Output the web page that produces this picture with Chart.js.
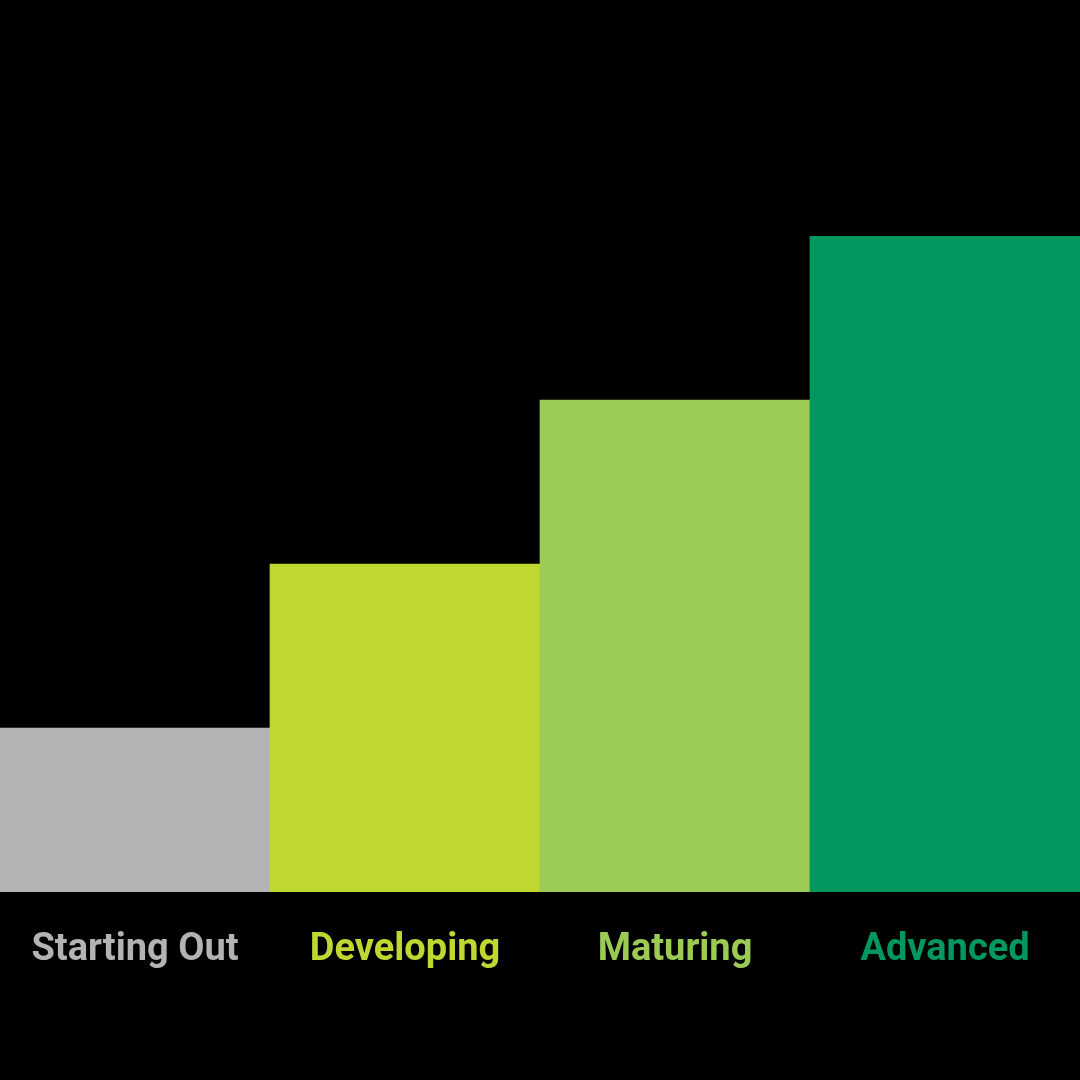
<!DOCTYPE html>
<html>
<head>
<meta charset="utf-8">
<script src="https://cdn.jsdelivr.net/npm/chart.js@4"></script>
<style>
  html, body { margin: 0; padding: 0; background: #000; }
  #wrap { width: 1080px; height: 1080px; }
</style>
</head>
<body>
<div id="wrap"><canvas id="grafico"></canvas></div>
<script>
var etapas = ['Starting Out', 'Developing', 'Maturing', 'Advanced'];
var valores = [1, 2, 3, 4];
var colores = ['#b3b3b3', '#c0d732', '#9bca55', '#00985f'];
var ejeMax = 4;

new Chart(document.getElementById('grafico'), {
  type: 'bar',
  data: {
    labels: etapas,
    datasets: [{
      data: valores,
      backgroundColor: colores,
      borderWidth: 0,
      barPercentage: 1.0,
      categoryPercentage: 1.0
    }]
  },
  options: {
    responsive: true,
    maintainAspectRatio: false,
    animation: false,
    layout: { padding: { top: 236, left: 0, right: 0, bottom: 0 } },
    plugins: { legend: { display: false }, tooltip: { enabled: false } },
    scales: {
      x: {
        grid: { display: false },
        border: { display: false },
        ticks: {
          padding: 28,
          color: colores,
          font: { family: 'Roboto', size: 38, weight: 'bold' },
          maxRotation: 0
        },
        afterFit: function (escala) { escala.height = 188; }
      },
      y: {
        display: false,
        min: 0,
        max: ejeMax
      }
    }
  }
});
</script>
</body>
</html>
